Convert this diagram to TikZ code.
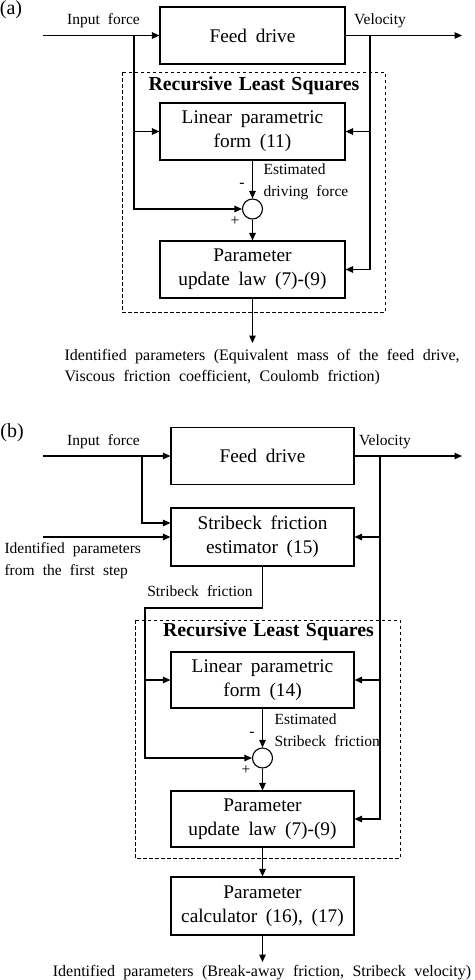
\documentclass[tikz,border=0pt]{standalone}
\usepackage{fontspec}
\setmainfont{Liberation Serif}
\usetikzlibrary{arrows.meta}
\newcommand\myboxfont{\fontsize{19.3}{24}\selectfont\spaceskip 0.45em\relax}
\newcommand\mylblfont{\fontsize{15.5}{22}\selectfont\spaceskip 0.525em\relax}
\newcommand\myoutfont{\fontsize{16}{21}\selectfont\spaceskip 0.525em\relax}
\newcommand\myrlsfont{\bfseries\fontsize{19.8}{24}\selectfont\spaceskip 0.33em\relax}
\tikzset{
  blk/.style={draw, line width=1.1pt, minimum width=185pt, minimum height=57pt, align=center, inner sep=0pt,
    font=\myboxfont},
  blkb/.style={blk, minimum width=183pt},
  sumc/.style={draw, circle, line width=1.1pt, minimum size=20pt, inner sep=0pt},
  lbl/.style={inner sep=0pt, align=left, font=\mylblfont},
  outtxt/.style={inner sep=0pt, align=left, font=\myoutfont},
  tag/.style={inner sep=0pt, font=\fontsize{20}{24}\selectfont},
  rls/.style={inner sep=0pt, font=\myrlsfont},
  arr/.style={-{Triangle[length=7.5pt,width=6.5pt]}},
  frame/.style={dashed, dash pattern=on 3.5pt off 2.5pt, line width=1pt}
}
\begin{document}
\begin{tikzpicture}[x=1pt,y=-1pt,line width=1.15pt]
\useasboundingbox (0,0) rectangle (474,980);

% ---------------- (a) ----------------
\node[tag] (tagA) at (11,10) {(a)};
\node[blk] (feedA) at (252.5,35.5) {Feed drive};
\node[rls] (rlsA) at (254,86) {Recursive Least Squares};
\node[blk] (linA) at (252.5,131.5) {Linear parametric\\form (11)};
\node[sumc] (sumA) at (252.5,209) {};
\node[blk] (updA) at (252.5,269.5) {Parameter\\update law (7)-(9)};
\draw[frame] (122,72) rectangle (385,312);

\coordinate (inA) at (43,35.5);
\coordinate (brLA) at (134,35.5);
\coordinate (brRA) at (370,35.5);
\coordinate (outvA) at (462,35.5);
\coordinate (outA) at (252.5,343);

\node[lbl] (lInA) at (103.5,21) {Input force};
\node[lbl] (lVelA) at (380,21) {Velocity};

\draw[arr] (inA) -- (feedA.west);
\draw[arr] (feedA.east) -- (outvA);
\draw[arr] (brLA) |- (sumA.west);
\draw[arr] (brLA |- linA.west) -- (linA.west);
\draw[arr] (brRA) |- (updA.east);
\draw[arr] (brRA |- linA.east) -- (linA.east);
\draw[arr] (linA.south) -- (sumA.north);
\draw[arr] (sumA.south) -- (updA.north);
\draw[arr] (updA.south) -- (outA);

\node[lbl] (mA) at (242,185) {-};
\node[lbl] (pA) at (235,221) {+};
\node[lbl, anchor=west] (estA) at (263,182) {Estimated\\driving force};
\node[outtxt, anchor=west] (idA) at (64,367.5) {Identified parameters (Equivalent mass of the feed drive,\\Viscous friction coefficient, Coulomb friction)};

% ---------------- (b) ----------------
\node[tag] (tagB) at (12,433) {(b)};
\node[blkb] (feedB) at (262.5,456) {Feed drive};
\node[blkb, minimum height=58pt] (stribB) at (262.5,537) {Stribeck friction\\estimator (15)};
\node[rls] (rlsB) at (268.5,632) {Recursive Least Squares};
\node[blkb, minimum height=56pt] (linB) at (262.5,680) {Linear parametric\\form (14)};
\node[sumc] (sumB) at (262.5,758) {};
\node[blkb, minimum height=56pt] (updB) at (262.5,819) {Parameter\\update law (7)-(9)};
\node[blkb, minimum height=58pt] (calcB) at (262.5,906) {Parameter\\calculator (16), (17)};
\draw[frame] (135,620) rectangle (400,858);

\coordinate (inB) at (43,456);
\coordinate (brLB) at (142,456);
\coordinate (brRB) at (380,456);
\coordinate (outvB) at (462,456);
\coordinate (idpB) at (43,537);
\coordinate (sfA) at (262.5,608);
\coordinate (sfB) at (145,608);
\coordinate (outB) at (262.5,962);
\path (stribB.west) ++(0,-14) coordinate (stIn);

\node[lbl] (lInB) at (103.5,442) {Input force};
\node[lbl] (lVelB) at (385,442) {Velocity};

\draw[arr] (inB) -- (feedB.west);
\draw[arr] (feedB.east) -- (outvB);
\draw[arr] (brLB) |- (stIn);
\draw[arr] (idpB) -- (stribB.west);
\draw[arr] (brRB) |- (updB.east);
\draw[arr] (brRB |- stribB.east) -- (stribB.east);
\draw[arr] (brRB |- linB.east) -- (linB.east);
\draw[arr] (stribB.south) -- (sfA) -- (sfB) |- (sumB.west);
\draw[arr] (sfB |- linB.west) -- (linB.west);
\draw[arr] (linB.south) -- (sumB.north);
\draw[arr] (sumB.south) -- (updB.north);
\draw[arr] (updB.south) -- (calcB.north);
\draw[arr] (calcB.south) -- (outB);

\node[lbl, anchor=west] (idpL) at (4,561) {Identified parameters\\from the first step};
\node[lbl] (sfL) at (200,591) {Stribeck friction};
\node[lbl] (mB) at (252,734) {-};
\node[lbl] (pB) at (246,770) {+};
\node[lbl, anchor=west] (estB) at (274,730) {Estimated\\Stribeck friction};
\node[outtxt] (idB) at (262,973) {Identified parameters (Break-away friction, Stribeck velocity)};
\end{tikzpicture}
\end{document}
